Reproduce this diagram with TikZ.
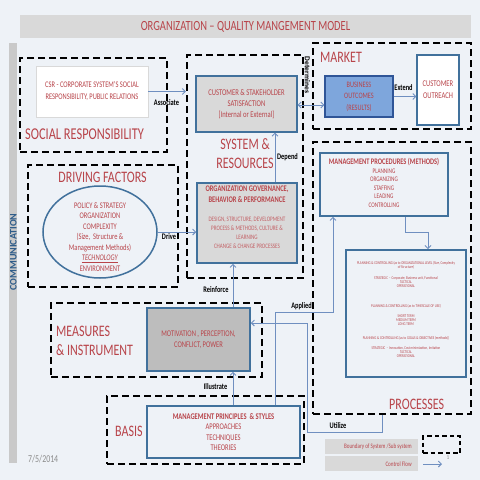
\documentclass[tikz,border=0pt]{standalone}
\usepackage{fontspec}
\setmainfont{Carlito}[FakeStretch=0.75]
\newfontfamily\rotfont{Carlito}
\usetikzlibrary{arrows.meta,shapes.geometric}
\definecolor{bg}{HTML}{EEF2F7}
\definecolor{redt}{HTML}{B8444A}
\definecolor{boxblue}{HTML}{41719C}
\definecolor{flowblue}{HTML}{6F8FC0}
\definecolor{gryA}{HTML}{D9D9D9}
\definecolor{gryB}{HTML}{BDBDBD}
\definecolor{busfill}{HTML}{7EA6DC}
\definecolor{busdraw}{HTML}{2F5597}
\definecolor{commtxt}{HTML}{2E5C8A}
\definecolor{bargray}{HTML}{C9C9C9}
\newcommand{\fs}[2]{\fontsize{#1}{#2}\selectfont}
\tikzset{
  bnd/.style={draw=black, line width=2.2pt, dash pattern=on 7pt off 4pt, rectangle, inner sep=0pt},
  blubox/.style={draw=boxblue, line width=1.5pt, rectangle, inner sep=0pt, align=center, text=redt},
  flow/.style={draw=flowblue, line width=0.9pt, -{Straight Barb[length=3pt,width=6pt]}},
  clbl/.style={font=\bfseries\fs{8.5}{9}, text=black, inner sep=0pt},
  biglbl/.style={text=redt, font=\fs{16}{19}, inner sep=0pt},
  txt/.style={text=redt, align=center, inner sep=0pt},
}
\begin{document}
\begin{tikzpicture}[x=1pt,y=-1pt]
\useasboundingbox (0,0) rectangle (480,480);
\fill[bg] (0,0) rectangle (480,480);

% title and communication bar
\node[fill=gryA, minimum width=451pt, minimum height=23pt, inner sep=0pt, text=redt, font=\fs{14}{16}] (title) at (245.5,26.5) {ORGANIZATION – QUALITY MANGEMENT MODEL};
\node[fill=bargray, minimum width=8pt, minimum height=420pt, inner sep=0pt] (bar) at (13,253) {};
\node[rotate=90, text=commtxt, font=\rotfont\bfseries\fs{10}{12}, inner sep=0pt] (comm) at (13.5,252) {COMMUNICATION};

% social responsibility
\node[bnd, minimum width=147pt, minimum height=94pt] (soc) at (93.5,105) {};
\node[fill=white, draw=gray!30, line width=0.6pt, minimum width=112pt, minimum height=51pt, txt, font=\fs{8.6}{12}] (csr) at (92,91.5) {CSR - CORPORATE SYSTEM'S SOCIAL\\RESPONSIBILITY, PUBLIC RELATIONS};
\node[biglbl, anchor=west, font=\fs{16.5}{19}] (socl) at (25,134) {SOCIAL RESPONSIBILITY};

% system & resources
\node[bnd, minimum width=116pt, minimum height=223pt] (sys) at (245,166.5) {};
\node[blubox, fill=gryA, line width=1.2pt, minimum width=101pt, minimum height=56pt, font=\fs{8.8}{11}] (cust) at (246.5,104) {CUSTOMER \& STAKEHOLDER\\SATISFACTION\\{[Internal or External]}};
\node[biglbl] (sysl1) at (245,144.5) {SYSTEM \&};
\node[biglbl] (sysl2) at (245,163.5) {RESOURCES};
\node[blubox, fill=gryA, minimum width=100pt, minimum height=80pt] (gov) at (247,223) {};
\node[txt, font=\bfseries\fs{8.6}{11}] (govh) at (247,194.5) {ORGANIZATION GOVERNANCE,\\BEHAVIOR \& PERFORMANCE};
\node[txt, text=redt!85, font=\fs{6.8}{9}] (govb) at (247,232.5) {DESIGN, STRUCTURE, DEVELOPMENT\\PROCESS \& METHODS, CULTURE \&\\LEARNING\\CHANGE \& CHANGE PROCESSES};
\node[rotate=-90, font=\rotfont\bfseries\fs{7.5}{9}, inner sep=0pt] (det) at (307.5,75) {Determines};

% market
\node[bnd, minimum width=158pt, minimum height=86pt] (mkt) at (392,86) {};
\node[biglbl, anchor=west] (mktl) at (320,57) {MARKET};
\node[blubox, draw=busdraw, fill=busfill, line width=1.2pt, minimum width=68pt, minimum height=41pt, font=\fs{8.3}{11.5}] (bus) at (359,96.5) {BUSINESS\\OUTCOMES\\(RESULTS)};
\node[blubox, fill=white, line width=1.2pt, minimum width=42pt, minimum height=70pt, font=\fs{8.8}{12}] (outr) at (438,90) {CUSTOMER\\OUTREACH};

% processes
\node[bnd, minimum width=158pt, minimum height=272pt] (proc) at (392,278) {};
\node[biglbl, anchor=west] (procl) at (389,404.5) {PROCESSES};
\node[blubox, minimum width=128pt, minimum height=63pt] (mproc) at (384,184.5) {};
\node[txt, font=\bfseries\fs{8.5}{10}] (mproch) at (384,161.5) {MANAGEMENT PROCEDURES (METHODS)};
\node[txt, font=\fs{7}{8.5}] (mproci) at (384,188) {PLANNING\\ORGANIZING\\STAFFING\\LEADING\\CONTROLLING};
\node[blubox, line width=1.8pt, minimum width=120pt, minimum height=127pt] (plan) at (406,313.5) {};
\node[txt, font=\fs{4.2}{4}] (plant) at (406,309.5) {PLANNING \& CONTROLLING (as to ORGANIZATIONAL LEVEL (Size, Complexity\\
of Structure)\\[7pt]
STRATEGIC\ \ -\ \ Corporate, Business unit, Functional\\
TACTICAL\\
OPERATIONAL\\[16pt]
PLANNING \& CONTROLLING (as to TIMESCALE OF USE)\\[6pt]
SHORT TERM\\
MEDIUM TERM\\
LONG TERM\\[10pt]
PLANNING \& CONTROLLING (as to GOALS \& OBJECTIVES (methods))\\[6pt]
STRATEGIC\ \ -\ \ Innovation, Cost minimization, Imitation\\
TACTICAL\\
OPERATIONAL};

% driving factors
\node[bnd, minimum width=150pt, minimum height=122pt] (drv) at (103,226) {};
\node[biglbl] (drvl) at (102.5,177.5) {DRIVING FACTORS};
\node[ellipse, draw=boxblue, line width=1.5pt, minimum width=114pt, minimum height=92pt, inner sep=0pt] (ell) at (100,232) {};
\node[txt, font=\fs{8.6}{10.5}] (ellt) at (100,237) {POLICY \& STRATEGY\\ORGANIZATION\\COMPLEXITY\\(Size,\ \ Structure \&\\Management Methods)\\\underline{\textit{TECHNOLOGY}}\\ENVIRONMENT};

% measures
\node[bnd, minimum width=211pt, minimum height=74pt] (meas) at (156.5,340) {};
\node[biglbl, anchor=west] (measl1) at (56,331.5) {MEASURES};
\node[biglbl, anchor=west] (measl2) at (56,350) {\& INSTRUMENT};
\node[blubox, fill=gryB, minimum width=103pt, minimum height=63pt, font=\fs{8.7}{11}] (motiv) at (198.5,339.5) {MOTIVATION , PERCEPTION,\\CONFLICT, POWER};

% basis
\node[bnd, minimum width=197pt, minimum height=68pt] (bas) at (205.5,430) {};
\node[biglbl, anchor=west] (basl) at (115,431) {BASIS};
\node[blubox, minimum width=153pt, minimum height=52pt, font=\fs{8.7}{10.3}] (mprin) at (223.5,432) {{\bfseries MANAGEMENT PRINCIPLES\ \ \& STYLES}\\APPROACHES\\TECHNIQUES\\THEORIES};

% connectors
\draw[flow] (csr.east) -- (csr.east -| sys.west);
\draw[flow] ([xshift=28pt]gov.north) -- ([xshift=28pt]gov.north |- cust.south);
\draw[flow, {Straight Barb[length=3pt,width=6pt]}-{Straight Barb[length=3pt,width=6pt]}] (cust.east |- 0,105) -- (bus.west |- 0,105);
\draw[flow] (bus.east) -- (bus.east -| outr.west);
\draw[flow] (ell.east) -- (ell.east -| gov.west);
\draw[flow] ([xshift=21pt]mproc.south) -- ++(0,16) -| ([xshift=22pt]plan.north);
\draw[flow] ([xshift=34.5pt]motiv.north) -- ([xshift=34.5pt]motiv.north |- gov.south);
\draw[flow] ([xshift=9.5pt]mprin.north) -- ([xshift=9.5pt]mprin.north |- motiv.south);
\coordinate (apj) at (333,312);
\draw[flow] ([xshift=51.5pt]mprin.north) |- (apj) -- (apj |- mproc.south);
\coordinate (u1) at (382,432);
\coordinate (u2) at (307,432);
\coordinate (u3) at (307,323);
\draw[flow] (proc.south -| u1) -- (u1) -- (u2) -- (u3) -- (u3 -| motiv.east);

% connector labels
\node[clbl] (lassoc) at (166.5,103) {Associate};
\node[clbl] (ldep) at (287.5,157) {Depend};
\node[clbl] (lext) at (403.5,88) {Extend};
\node[clbl] (ldrv) at (169,237) {Drive};
\node[clbl] (lrei) at (216,290) {Reinforce};
\node[clbl] (lapp) at (301.5,306) {Applied};
\node[clbl] (lill) at (215.5,387) {Illustrate};
\node[clbl] (luti) at (338,426) {Utilize};

% legend
\node[fill=gryA, minimum width=93pt, minimum height=15pt, inner sep=0pt] (lg1) at (371.5,446.5) {};
\node[text=redt, font=\fs{6.8}{8}, anchor=east, inner sep=0pt] (lg1t) at (412,447) {Boundary of System /Sub system};
\node[fill=gryA, minimum width=93pt, minimum height=15pt, inner sep=0pt] (lg2) at (371.5,463.5) {};
\node[text=redt, font=\fs{6.8}{8}, anchor=east, inner sep=0pt] (lg2t) at (412,464) {Control Flow};
\node[draw=black, line width=1.5pt, dash pattern=on 4.5pt off 3pt, minimum width=37pt, minimum height=17pt, inner sep=0pt] (lgd) at (441.5,444.5) {};
\coordinate (la) at (423,464);
\coordinate (lb) at (442,464);
\draw[flow] (la) -- (lb);
\node[text=gray, font=\fs{6}{7}, inner sep=0pt] (one) at (448,458) {1};
\node[text=gray!90, font=\fs{10.5}{12}, anchor=west, inner sep=0pt] (date) at (28,459) {7/5/2014};
\end{tikzpicture}
\end{document}
